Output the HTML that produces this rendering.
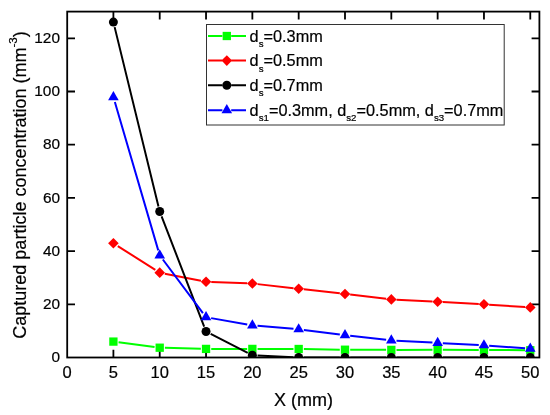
<!DOCTYPE html>
<html><head><meta charset="utf-8"><style>
html,body{margin:0;padding:0;background:#fff;}
svg{display:block;font-family:"Liberation Sans",Arial,sans-serif;}
text{stroke:#000;stroke-width:0.2px;}
</style></head><body>
<svg width="550" height="415" viewBox="0 0 550 415">
<rect width="550" height="415" fill="#fff"/>
<defs><clipPath id="pc"><rect x="67.2" y="11.6" width="472.20" height="345.90"/></clipPath></defs>
<rect x="67.2" y="11.6" width="472.20" height="345.90" fill="none" stroke="#000" stroke-width="1.8"/>
<path d="M113.40,357.5v-7.8M113.40,11.6v7.8M159.72,357.5v-7.8M159.72,11.6v7.8M206.04,357.5v-7.8M206.04,11.6v7.8M252.36,357.5v-7.8M252.36,11.6v7.8M298.68,357.5v-7.8M298.68,11.6v7.8M345.00,357.5v-7.8M345.00,11.6v7.8M391.32,357.5v-7.8M391.32,11.6v7.8M437.64,357.5v-7.8M437.64,11.6v7.8M483.96,357.5v-7.8M483.96,11.6v7.8M530.28,357.5v-7.8M530.28,11.6v7.8M67.2,304.30h7.8M539.4,304.30h-7.8M67.2,251.10h7.8M539.4,251.10h-7.8M67.2,197.90h7.8M539.4,197.90h-7.8M67.2,144.70h7.8M539.4,144.70h-7.8M67.2,91.50h7.8M539.4,91.50h-7.8M67.2,38.30h7.8M539.4,38.30h-7.8" stroke="#000" stroke-width="1.8" fill="none"/>
<g clip-path="url(#pc)"><path d="M118.56,342.27L154.56,347.03M164.92,347.85L200.84,348.77M211.24,348.91L247.16,348.91M257.56,348.92L293.48,348.98M303.88,349.07L339.80,349.63M350.20,349.73L386.12,349.87M396.52,349.88L432.44,349.80M442.84,349.80L478.76,349.88M489.16,349.93L525.08,350.18" fill="none" stroke="#00ff00" stroke-width="2.0"/><rect x="109.25" y="337.44" width="8.3" height="8.3" fill="#00ff00"/><rect x="155.57" y="343.56" width="8.3" height="8.3" fill="#00ff00"/><rect x="201.89" y="344.76" width="8.3" height="8.3" fill="#00ff00"/><rect x="248.21" y="344.76" width="8.3" height="8.3" fill="#00ff00"/><rect x="294.53" y="344.84" width="8.3" height="8.3" fill="#00ff00"/><rect x="340.85" y="345.56" width="8.3" height="8.3" fill="#00ff00"/><rect x="387.17" y="345.74" width="8.3" height="8.3" fill="#00ff00"/><rect x="433.49" y="345.64" width="8.3" height="8.3" fill="#00ff00"/><rect x="479.81" y="345.74" width="8.3" height="8.3" fill="#00ff00"/><rect x="526.13" y="346.06" width="8.3" height="8.3" fill="#00ff00"/><path d="M117.79,246.09L155.33,269.86M164.82,273.65L200.94,280.79M211.24,281.99L247.16,283.36M257.53,284.13L293.51,288.14M303.85,289.29L339.83,293.34M350.16,294.54L386.16,298.79M396.51,299.67L432.45,301.53M442.83,302.08L478.77,304.02M489.15,304.65L525.09,307.06" fill="none" stroke="#ff0000" stroke-width="2.0"/><polygon points="113.40,238.01 118.70,243.31 113.40,248.61 108.10,243.31" fill="#ff0000"/><polygon points="159.72,267.35 165.02,272.65 159.72,277.95 154.42,272.65" fill="#ff0000"/><polygon points="206.04,276.50 211.34,281.80 206.04,287.10 200.74,281.80" fill="#ff0000"/><polygon points="252.36,278.25 257.66,283.55 252.36,288.85 247.06,283.55" fill="#ff0000"/><polygon points="298.68,283.41 303.98,288.71 298.68,294.01 293.38,288.71" fill="#ff0000"/><polygon points="345.00,288.63 350.30,293.93 345.00,299.23 339.70,293.93" fill="#ff0000"/><polygon points="391.32,294.11 396.62,299.41 391.32,304.71 386.02,299.41" fill="#ff0000"/><polygon points="437.64,296.50 442.94,301.80 437.64,307.10 432.34,301.80" fill="#ff0000"/><polygon points="483.96,299.00 489.26,304.30 483.96,309.60 478.66,304.30" fill="#ff0000"/><polygon points="530.28,302.11 535.58,307.41 530.28,312.71 524.98,307.41" fill="#ff0000"/><path d="M114.64,27.13L158.48,206.41M161.59,216.32L204.17,326.66M210.67,333.88L247.73,352.84M257.55,355.47L293.49,357.24M303.88,357.50L339.80,357.50M350.20,357.50L386.12,357.50M396.52,357.50L432.44,357.50M442.84,357.50L478.76,357.50M489.16,357.50L525.08,357.50" fill="none" stroke="#000000" stroke-width="2.0"/><circle cx="113.40" cy="22.07" r="4.5" fill="#000000"/><circle cx="159.72" cy="211.47" r="4.5" fill="#000000"/><circle cx="206.04" cy="331.51" r="4.5" fill="#000000"/><circle cx="252.36" cy="355.21" r="4.5" fill="#000000"/><circle cx="298.68" cy="357.50" r="4.5" fill="#000000"/><circle cx="345.00" cy="357.50" r="4.5" fill="#000000"/><circle cx="391.32" cy="357.50" r="4.5" fill="#000000"/><circle cx="437.64" cy="357.50" r="4.5" fill="#000000"/><circle cx="483.96" cy="357.50" r="4.5" fill="#000000"/><circle cx="530.28" cy="357.50" r="4.5" fill="#000000"/><path d="M114.86,102.08L158.26,250.37M162.84,259.52L202.92,313.04M211.16,318.11L247.24,324.49M257.54,325.83L293.50,328.87M303.84,329.96L339.84,334.55M350.17,335.79L386.15,339.82M396.51,340.68L432.45,342.62M442.83,343.16L478.77,345.02M489.15,345.66L525.09,348.22" fill="none" stroke="#0000ff" stroke-width="2.0"/><polygon points="113.40,90.95 118.70,100.15 108.10,100.15" fill="#0000ff"/><polygon points="159.72,249.22 165.02,258.42 154.42,258.42" fill="#0000ff"/><polygon points="206.04,311.07 211.34,320.27 200.74,320.27" fill="#0000ff"/><polygon points="252.36,319.26 257.66,328.46 247.06,328.46" fill="#0000ff"/><polygon points="298.68,323.17 303.98,332.37 293.38,332.37" fill="#0000ff"/><polygon points="345.00,329.08 350.30,338.28 339.70,338.28" fill="#0000ff"/><polygon points="391.32,334.26 396.62,343.46 386.02,343.46" fill="#0000ff"/><polygon points="437.64,336.76 442.94,345.96 432.34,345.96" fill="#0000ff"/><polygon points="483.96,339.16 489.26,348.36 478.66,348.36" fill="#0000ff"/><polygon points="530.28,342.46 535.58,351.66 524.98,351.66" fill="#0000ff"/></g>
<g font-size="16.5"><text x="67.08" y="377.9" text-anchor="middle">0</text><text x="113.40" y="377.9" text-anchor="middle">5</text><text x="159.72" y="377.9" text-anchor="middle">10</text><text x="206.04" y="377.9" text-anchor="middle">15</text><text x="252.36" y="377.9" text-anchor="middle">20</text><text x="298.68" y="377.9" text-anchor="middle">25</text><text x="345.00" y="377.9" text-anchor="middle">30</text><text x="391.32" y="377.9" text-anchor="middle">35</text><text x="437.64" y="377.9" text-anchor="middle">40</text><text x="483.96" y="377.9" text-anchor="middle">45</text><text x="530.28" y="377.9" text-anchor="middle">50</text><text x="60" y="362.10" text-anchor="end" font-size="15.4">0</text><text x="60" y="308.90" text-anchor="end" font-size="15.4">20</text><text x="60" y="255.70" text-anchor="end" font-size="15.4">40</text><text x="60" y="202.50" text-anchor="end" font-size="15.4">60</text><text x="60" y="149.30" text-anchor="end" font-size="15.4">80</text><text x="60" y="96.10" text-anchor="end" font-size="15.4">100</text><text x="60" y="42.90" text-anchor="end" font-size="15.4">120</text></g>
<text x="303.5" y="406" text-anchor="middle" font-size="18">X (mm)</text>
<text transform="translate(25.6,185) rotate(-90)" text-anchor="middle" font-size="18">Captured particle concentration (mm<tspan dy="-8.6" font-size="11.5">-3</tspan><tspan dy="8.6">)</tspan></text>
<rect x="206.5" y="24.5" width="297.70" height="100.50" fill="#fff" stroke="#333" stroke-width="1"/>
<path d="M208,36H222.40M231.20,36H246" stroke="#00ff00" stroke-width="2.0"/>
<rect x="222.65" y="31.85" width="8.3" height="8.3" fill="#00ff00"/>
<text x="249.6" y="41.80" font-size="16.3">d<tspan dy="5.2" font-size="9.7">s</tspan><tspan dy="-5.2">=0.3mm</tspan></text>
<path d="M208,60.6H222.40M231.20,60.6H246" stroke="#ff0000" stroke-width="2.0"/>
<polygon points="226.80,55.30 232.10,60.60 226.80,65.90 221.50,60.60" fill="#ff0000"/>
<text x="249.6" y="66.40" font-size="16.3">d<tspan dy="5.2" font-size="9.7">s</tspan><tspan dy="-5.2">=0.5mm</tspan></text>
<path d="M208,85.3H222.40M231.20,85.3H246" stroke="#000000" stroke-width="2.0"/>
<circle cx="226.80" cy="85.30" r="4.5" fill="#000000"/>
<text x="249.6" y="91.10" font-size="16.3">d<tspan dy="5.2" font-size="9.7">s</tspan><tspan dy="-5.2">=0.7mm</tspan></text>
<path d="M208,110.2H222.40M231.20,110.2H246" stroke="#0000ff" stroke-width="2.0"/>
<polygon points="226.80,104.07 232.10,113.27 221.50,113.27" fill="#0000ff"/>
<text x="249.6" y="116.00" font-size="16.3">d<tspan dy="5.2" font-size="9.7">s1</tspan><tspan dy="-5.2">=0.3mm, d</tspan><tspan dy="5.2" font-size="9.7">s2</tspan><tspan dy="-5.2">=0.5mm, d</tspan><tspan dy="5.2" font-size="9.7">s3</tspan><tspan dy="-5.2">=0.7mm</tspan></text>
</svg>
</body></html>
